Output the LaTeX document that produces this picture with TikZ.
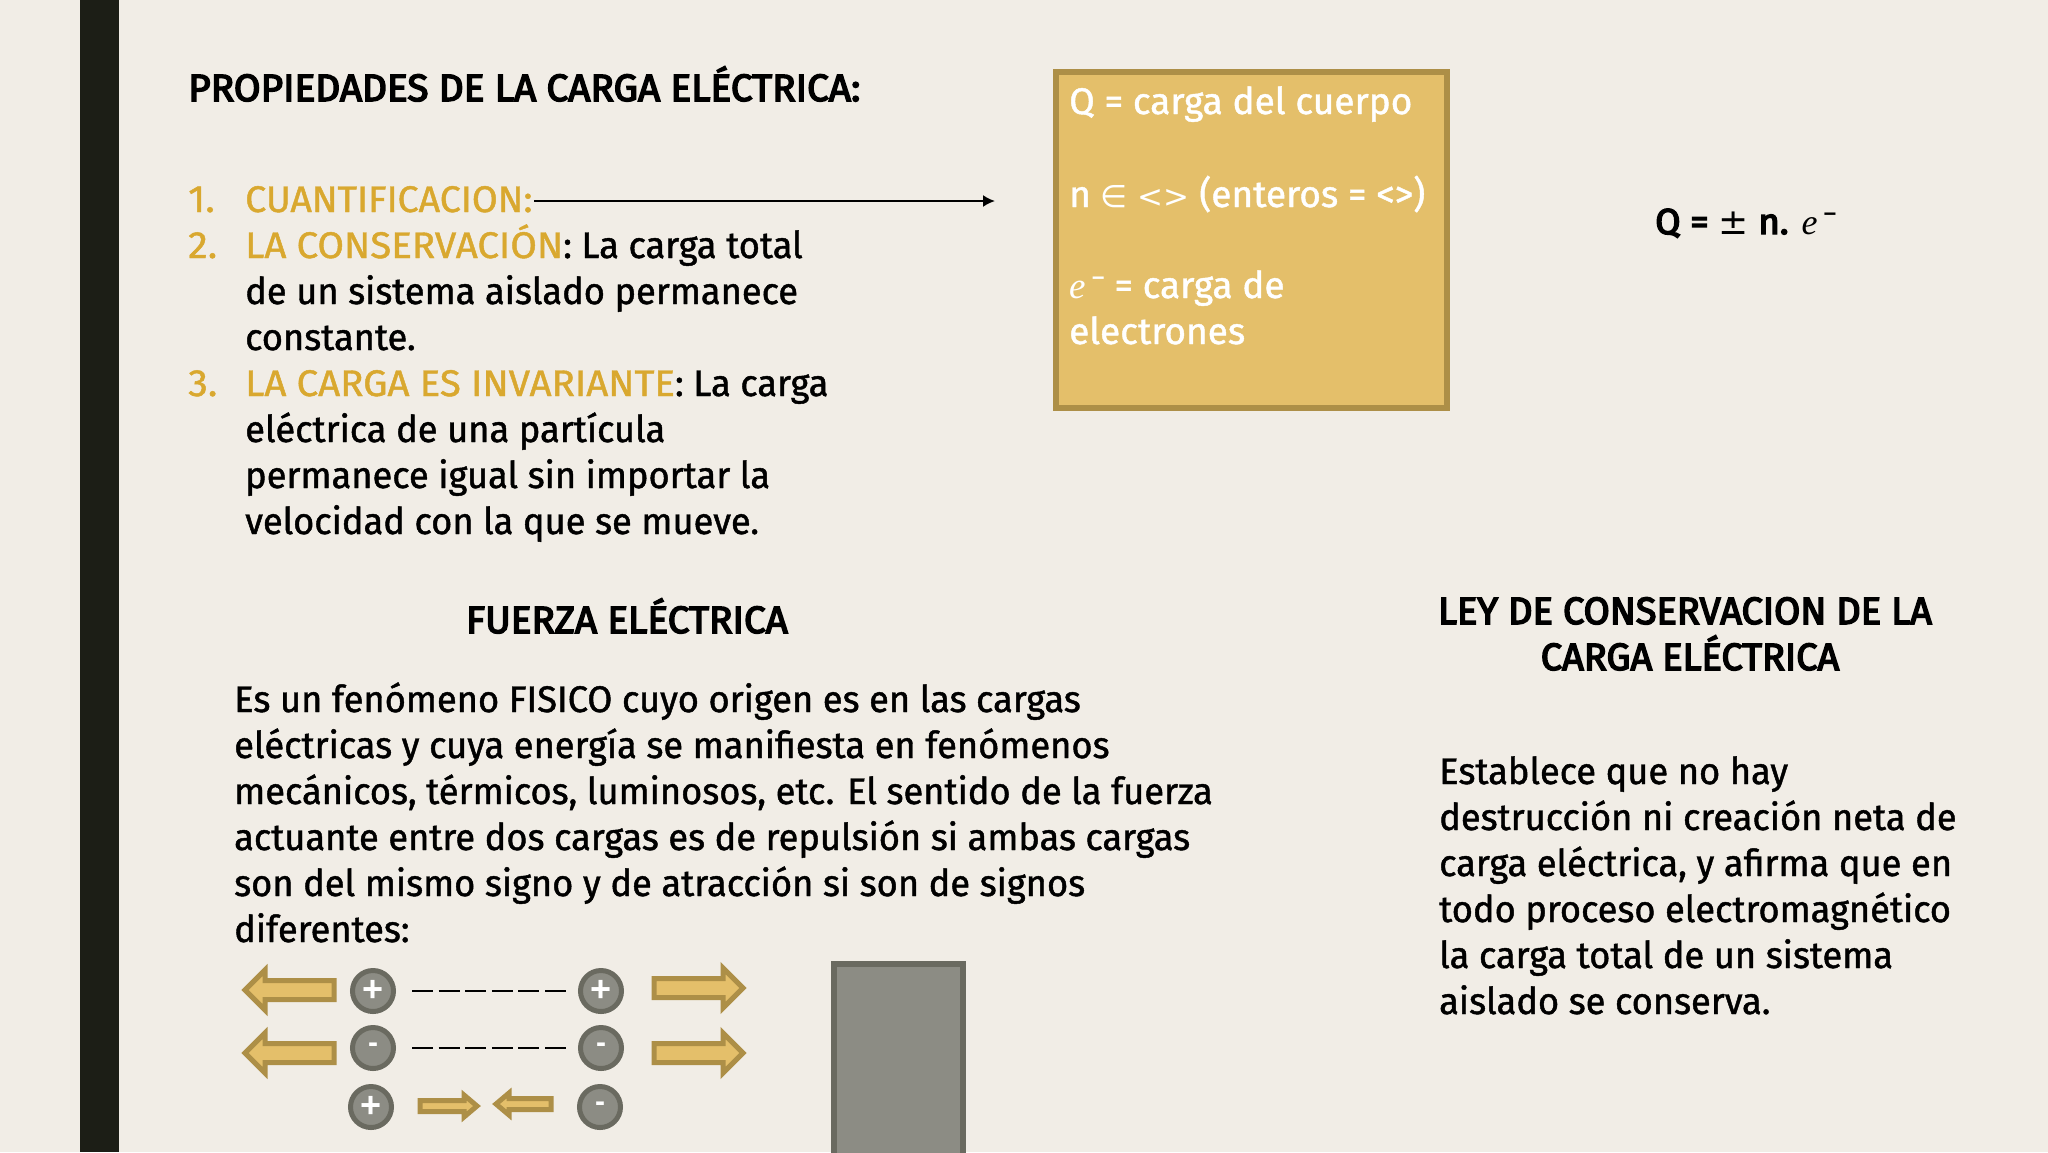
\documentclass[tikz,border=0pt]{standalone}
\usepackage{fontspec}
\setmainfont{Fira Sans}
\newfontfamily\bodyf[FakeStretch=0.98,FakeBold=1.2]{Fira Sans}
\newfontfamily\capsf[FakeStretch=1.04,FakeBold=1.2]{Fira Sans}
\newfontfamily\capsaf[FakeStretch=1.015,FakeBold=1.2]{Fira Sans}
\newfontfamily\whitef[FakeStretch=1.0,FakeBold=1.2]{Fira Sans}
\newfontfamily\headf[FakeStretch=1.02,FakeBold=4]{Fira Sans}
\newfontfamily\headbf[FakeStretch=1.0,FakeBold=4]{Fira Sans}
\newfontfamily\signf{Liberation Sans}
\newfontfamily\symf{DejaVu Sans}
\newfontfamily\italf{Liberation Serif}
\usetikzlibrary{arrows.meta}
\definecolor{bg}{HTML}{F1EDE6}
\definecolor{barc}{HTML}{1C1E16}
\definecolor{goldt}{HTML}{D9A82F}
\definecolor{goldf}{HTML}{E4BF6A}
\definecolor{goldb}{HTML}{AD8F47}
\definecolor{grayf}{HTML}{8C8C84}
\definecolor{grayb}{HTML}{6A6A60}
\tikzset{
  x=1pt,y=-1pt,
  line/.style={anchor=base west,inner sep=0pt,yshift=-1pt,font=\bodyf\fontsize{37}{46}\selectfont,text=black},
  head/.style={anchor=base,inner sep=0pt,yshift=-1pt,font=\headf\fontsize{38}{46}\selectfont,text=black},
  gnum/.style={line,text=goldt,font=\capsf\fontsize{38}{46}\selectfont},
  wline/.style={line,text=white,font=\whitef\fontsize{37}{46}\selectfont},
  charge/.style={circle,draw=grayb,fill=grayf,line width=5pt,minimum size=41pt,inner sep=0pt,text=white,font=\signf\bfseries\fontsize{36}{36}\selectfont},
  fat/.style={draw=goldb,fill=goldf,line width=5pt,miter limit=10},
  link/.style={draw=black,line width=2pt,dash pattern=on 21pt off 5.6pt,shorten <=16pt,shorten >=12pt}
}
\newcommand{\gcap}[1]{{\capsf\color{goldt}#1}}
% tail x, tip x, y, shaft half, head half, head length
\newcommand{\fatarrow}[6]{%
  \pgfmathsetmacro{\hb}{#2-(#2-#1)/abs(#2-#1)*#6}
  \draw[fat] (#1,#3-#4) -- (\hb,#3-#4) -- (\hb,#3-#5) -- (#2,#3) -- (\hb,#3+#5) -- (\hb,#3+#4) -- (#1,#3+#4) -- cycle;}
\newcommand{\msign}{\raisebox{-6pt}{\fontsize{30}{30}\selectfont -}}
\newcommand{\elec}{{\italf\itshape e}\,\raisebox{13pt}{{\signf\bfseries\fontsize{22}{22}\selectfont −}}}
\begin{document}
\begin{tikzpicture}
\useasboundingbox (0,0) rectangle (2048,1152);
\fill[bg] (0,0) rectangle (2048,1152);
\fill[barc] (80,0) rectangle (119,1152);

\node[anchor=base west,inner sep=0pt,font=\headf\fontsize{38}{46}\selectfont] (title) at (188,101) {PROPIEDADES DE LA CARGA ELÉCTRICA:};

\node[gnum] (n1) at (188,211) {1.};
\node[line] (l1) at (245,211) {{\capsaf\color{goldt}CUANTIFICACION:}};
\node[gnum] (n2) at (188,257) {2.};
\node[line] (l2) at (245,257) {\gcap{LA CONSERVACIÓN}: La carga total};
\node[line] (l3) at (245,303) {de un sistema aislado permanece};
\node[line] (l4) at (245,349) {constante.};
\node[gnum] (n3) at (188,395) {3.};
\node[line] (l5) at (245,395) {\gcap{LA CARGA ES INVARIANTE}: La carga};
\node[line] (l6) at (245,441) {eléctrica de una partícula};
\node[line] (l7) at (245,487) {permanece igual sin importar la};
\node[line] (l8) at (245,533) {velocidad con la que se mueve.};

\coordinate (ae) at (995,201);
\draw[line width=2pt,-{Latex[length=12pt,width=12pt]}] (534,201) -- (ae);

\draw[draw=goldb,fill=goldf,line width=6pt] (1056,72) rectangle (1447,408);
\node[wline] (b1) at (1069,113) {Q = carga del cuerpo};
\node[wline] (b2) at (1069,206) {n {\symf\fontsize{31}{31}\selectfont ∈ <>} (enteros = <>)};
\node[wline] (b3) at (1069,297) {\elec{} = carga de};
\node[wline] (b4) at (1069,343) {electrones};

\node[line,font=\headf\fontsize{36}{46}\selectfont] (f) at (1655,233) {Q = {\symf\fontsize{36}{36}\selectfont ±} n. \elec};

\node[head] (h1) at (627,632) {FUERZA ELÉCTRICA};
\node[line] (t1) at (234,711) {Es un fenómeno FISICO cuyo origen es en las cargas};
\node[line] (t2) at (234,757) {eléctricas y cuya energía se manifiesta en fenómenos};
\node[line] (t3) at (234,803) {mecánicos, térmicos, luminosos, etc. El sentido de la fuerza};
\node[line] (t4) at (234,849) {actuante entre dos cargas es de repulsión si ambas cargas};
\node[line] (t5) at (234,895) {son del mismo signo y de atracción si son de signos};
\node[line] (t6) at (234,941) {diferentes:};

\node[head,font=\headbf\fontsize{38}{46}\selectfont] (h2) at (1685,623) {LEY DE CONSERVACION DE LA};
\node[head,font=\headbf\fontsize{38}{46}\selectfont] (h3) at (1690,669) {CARGA ELÉCTRICA};
\node[line] (r1) at (1439,783) {Establece que no hay};
\node[line] (r2) at (1439,829) {destrucción ni creación neta de};
\node[line] (r3) at (1439,875) {carga eléctrica, y afirma que en};
\node[line] (r4) at (1439,921) {todo proceso electromagnético};
\node[line] (r5) at (1439,967) {la carga total de un sistema};
\node[line] (r6) at (1439,1013) {aislado se conserva.};

\node[charge] (p1) at (373,991) {+};
\node[charge] (p2) at (601,991) {+};
\node[charge] (m1) at (373,1048) {\msign};
\node[charge] (m2) at (601,1048) {\msign};
\node[charge] (p3) at (371,1107) {+};
\node[charge] (m3) at (600,1107) {\msign};
\draw[link] (p1) -- (p2);
\draw[link] (m1) -- (m2);

\fatarrow{334}{245}{990}{9.5}{20}{20}
\fatarrow{654}{743}{988}{9.5}{20}{20}
\fatarrow{334}{245}{1053}{9.5}{20}{20}
\fatarrow{654}{743}{1053}{9.5}{20}{20}
\fatarrow{420}{477}{1106}{5.5}{11}{13}
\fatarrow{551}{496}{1104}{5.5}{11}{13}

\draw[draw=grayb,fill=grayf,line width=6pt] (834,964) rectangle (963,1160);
\end{tikzpicture}
\end{document}
